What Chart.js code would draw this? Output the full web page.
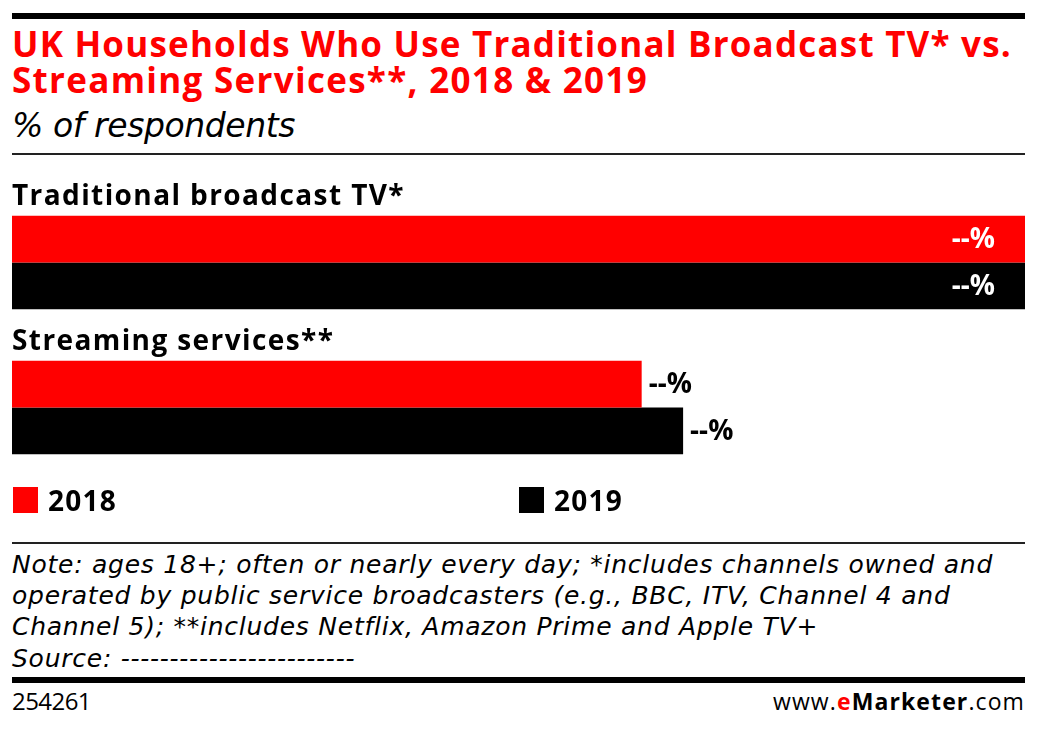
<!DOCTYPE html>
<html>
<head>
<meta charset="utf-8">
<script src="https://cdn.jsdelivr.net/npm/chart.js@4.4.1/dist/chart.umd.min.js"></script>
<style>
  html, body { margin: 0; padding: 0; background: #fff; }
  body { width: 1038px; height: 729px; position: relative; overflow: hidden; font-family: "Open Sans", sans-serif; }
  .abs { position: absolute; white-space: nowrap; line-height: 1; }
  .rule { position: absolute; left: 12px; width: 1013px; background: #000; }
  .title { color: #ff0000; font-weight: 700; font-size: 35px; left: 12px; }
  .sub { font-family: "DejaVu Sans", sans-serif; font-style: italic; font-size: 33px; left: 12px; color: #000; }
  .note { font-family: "DejaVu Sans", sans-serif; font-style: italic; font-size: 25px; left: 12px; line-height: 31.3px; color: #000; }
  .leg { position: absolute; top: 486px; height: 28px; }
  .leg .sw { position: absolute; left: 0; top: 1px; width: 25px; height: 26px; }
  .leg .lt { position: absolute; left: 35px; top: 0; font-weight: 700; font-size: 28px; line-height: 1; }
  #chartWrap { position: absolute; left: 0; top: 170px; width: 1038px; height: 320px; }
</style>
</head>
<body>
<div class="rule" style="top:13px;height:6px"></div>
<div class="abs title" id="t1" data-w="1000" style="top:25.6px">UK Households Who Use Traditional Broadcast TV* vs.</div>
<div class="abs title" id="t2" data-w="636" style="top:62.2px">Streaming Services**, 2018 &amp; 2019</div>
<div class="abs sub" id="st" data-w="283" style="top:108.8px">% of respondents</div>
<div class="rule" style="top:153px;height:2px;background:#222"></div>

<div id="chartWrap"><canvas id="chart" width="1038" height="320"></canvas></div>

<div id="legend"></div>

<div class="rule" style="top:542px;height:2px;background:#222"></div>
<div class="abs note" id="n1" data-w="981" style="top:548.7px">Note: ages 18+; often or nearly every day; *includes channels owned and</div>
<div class="abs note n" style="top:580px">operated by public service broadcasters (e.g., BBC, ITV, Channel 4 and</div>
<div class="abs note n" style="top:611.3px">Channel 5); **includes Netflix, Amazon Prime and Apple TV+</div>
<div class="abs note n" style="top:642.6px">Source: ------------------------</div>
<div class="rule" style="top:677px;height:6px"></div>
<div class="abs" id="id" data-w="79" style="left:12px;top:688.7px;font-size:24px">254261</div>
<div class="abs" id="brand" data-w="252" style="right:13px;top:689.6px;font-size:23px">www.<b><span style="color:#ff0000">e</span>Marketer</b>.com</div>

<script>
// Data
const categories = ['Traditional broadcast TV*', 'Streaming services**'];
const seriesNames = ['2018', '2019'];
const seriesColors = ['#ff0000', '#000000'];
const values2018 = [88, 54.7];
const values2019 = [88, 58.3];
const valueLabels2018 = ['--%', '--%'];
const valueLabels2019 = ['--%', '--%'];
const xMax = 88;

// stretch / squeeze text with letter-spacing to the reference width
function fitText(el, target) {
    el.style.letterSpacing = '0px';
    const w = el.getBoundingClientRect().width;
    const n = el.textContent.length;
    const ls = (target - w) / n;
    el.style.letterSpacing = ls + 'px';
    return ls;
}
document.querySelectorAll('[data-w]').forEach(el => fitText(el, parseFloat(el.dataset.w)));
const noteLs = document.getElementById('n1').style.letterSpacing;
document.querySelectorAll('.note.n').forEach(el => el.style.letterSpacing = noteLs);

// Legend
const legend = document.getElementById('legend');
seriesNames.forEach((name, i) => {
    const item = document.createElement('div');
    item.className = 'leg';
    item.style.left = (13 + i * 506) + 'px';
    item.innerHTML = `<div class="sw" style="background:${seriesColors[i]}"></div><div class="lt">${name}</div>`;
    legend.appendChild(item);
    fitText(item.querySelector('.lt'), 69);
});

// Bar value labels + category headings
const labelPlugin = {
    id: 'barLabels',
    afterDatasetsDraw(chart) {
        const ctx = chart.ctx;
        const area = chart.chartArea;
        const labelSets = [valueLabels2018, valueLabels2019];
        ctx.save();
        ctx.textBaseline = 'middle';
        ctx.font = 'bold 28px "Open Sans"';
        chart.data.datasets.forEach((ds, di) => {
            chart.getDatasetMeta(di).data.forEach((bar, i) => {
                const txt = labelSets[di][i];
                if (bar.x > area.right - 60) {
                    ctx.fillStyle = '#fff';
                    ctx.textAlign = 'right';
                    ctx.fillText(txt, bar.x - 30, bar.y + 1);
                } else {
                    ctx.fillStyle = '#000';
                    ctx.textAlign = 'left';
                    ctx.fillText(txt, bar.x + 7, bar.y + 1);
                }
            });
        });
        // category headings above each group
        ctx.textBaseline = 'alphabetic';
        ctx.textAlign = 'left';
        ctx.fillStyle = '#000';
        ctx.font = 'bold 28px "Open Sans"';
        ctx.letterSpacing = '1.4px';
        chart.getDatasetMeta(0).data.forEach((bar, i) => {
            const top = bar.y - bar.height / 2;
            ctx.fillText(categories[i], area.left, top - 11);
        });
        ctx.restore();
    }
};

const ctx = document.getElementById('chart').getContext('2d');
new Chart(ctx, {
    type: 'bar',
    data: {
        labels: categories,
        datasets: [
            { label: seriesNames[0], data: values2018, backgroundColor: seriesColors[0] },
            { label: seriesNames[1], data: values2019, backgroundColor: seriesColors[1] }
        ]
    },
    options: {
        indexAxis: 'y',
        responsive: false,
        animation: false,
        layout: { padding: { left: 12, right: 13, top: 20, bottom: 10 } },
        datasets: { bar: { barPercentage: 1, categoryPercentage: 0.645, borderWidth: 0 } },
        scales: {
            x: { display: false, min: 0, max: xMax },
            y: { display: false }
        },
        plugins: {
            legend: { display: false },
            tooltip: { enabled: false }
        }
    },
    plugins: [labelPlugin]
});
</script>
</body>
</html>
